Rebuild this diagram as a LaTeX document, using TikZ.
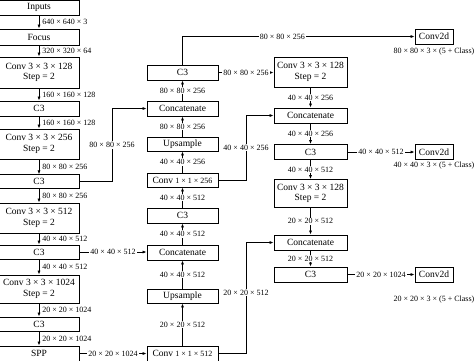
\documentclass[tikz,border=0pt]{standalone}
\usepackage{fontspec}
\setmainfont{Liberation Serif}
\usetikzlibrary{arrows.meta}
\begin{document}
\begin{tikzpicture}[x=1pt,y=-1pt,
  box/.style={draw, line width=0.8pt, inner sep=0pt, align=center,
    font=\fontsize{9.5}{10.5}\selectfont},
  lbox/.style={box, minimum width=80pt},
  mbox/.style={box, minimum width=71pt},
  rbox/.style={box, minimum width=73pt},
  dbox/.style={box, minimum width=38pt, minimum height=15pt},
  one/.style={minimum height=15pt},
  two/.style={minimum height=30pt},
  lbl/.style={font=\fontsize{8}{9}\selectfont, inner sep=1pt},
  wlbl/.style={lbl, fill=white},
  sm/.style={font=\fontsize{8}{9}\selectfont},
  arr/.style={-{Latex[length=4pt,width=3pt]}, line width=0.7pt},
  ln/.style={line width=0.7pt}]
\clip (0,0) rectangle (474,360);
\useasboundingbox (0,0) rectangle (474,360);

% left column
\node[lbox, minimum height=14.4pt] (inputs) at (39,7.8) {Inputs};
\node[lbox, minimum height=16pt] (focus) at (39,37) {Focus};
\node[lbox, minimum height=31pt] (conv128) at (39,72.5) {Conv 3 × 3 × 128\\Step = 2};
\node[lbox, one] (c3a) at (39,108.5) {C3};
\node[lbox, two] (conv256) at (39,144) {Conv 3 × 3 × 256\\Step = 2};
\node[lbox, minimum height=13.5pt] (c3b) at (39,181.5) {C3};
\node[lbox, two] (conv512) at (39,218) {Conv 3 × 3 × 512\\Step = 2};
\node[lbox, minimum height=14pt] (c3c) at (39,252) {C3};
\node[lbox, minimum height=28pt] (conv1024) at (39,289) {Conv 3 × 3 × 1024\\Step = 2};
\node[lbox, minimum height=14pt] (c3d) at (39,324) {C3};
\node[lbox, one] (spp) at (39,353.5) {SPP};

\foreach \a/\b/\t in {inputs/focus/640 × 640 × 3, focus/conv128/320 × 320 × 64,
  conv128/c3a/160 × 160 × 128, c3a/conv256/160 × 160 × 128,
  conv256/c3b/80 × 80 × 256, c3b/conv512/80 × 80 × 256,
  conv512/c3c/40 × 40 × 512, c3c/conv1024/40 × 40 × 512,
  conv1024/c3d/20 × 20 × 1024, c3d/spp/20 × 20 × 1024}
  \draw[arr] (\a.south) -- node[lbl, anchor=west, xshift=2pt] {\t} (\b.north);

% middle column
\node[mbox, one] (mc3) at (182.5,72.5) {C3};
\node[mbox, one] (mcat1) at (182.5,108.5) {Concatenate};
\node[mbox, minimum height=14pt] (mup1) at (182.5,144) {Upsample};
\node[mbox, minimum height=14pt] (mconv256) at (182.5,180) {Conv {\fontsize{8}{9}\selectfont 1 × 1 × 256}};
\node[mbox, one] (mc3b) at (182.5,215.5) {C3};
\node[mbox, one] (mcat2) at (182.5,252.5) {Concatenate};
\node[mbox, minimum height=14pt] (mup2) at (182.5,296) {Upsample};
\node[mbox, one] (mconv512) at (182.5,353.5) {Conv {\fontsize{8}{9}\selectfont 1 × 1 × 512}};

\foreach \a/\b/\t in {mcat1/mc3/80 × 80 × 256, mup1/mcat1/80 × 80 × 256,
  mconv256/mup1/40 × 40 × 256, mc3b/mconv256/40 × 40 × 512,
  mcat2/mc3b/40 × 40 × 512, mup2/mcat2/40 × 40 × 512,
  mconv512/mup2/20 × 20 × 512}
  \draw[arr] (\a.north) -- node[wlbl] {\t} (\b.south);

% right column
\node[rbox, two] (rconv1) at (310.5,72) {Conv 3 × 3 × 128\\Step = 2};
\node[rbox, one] (rcat1) at (310.5,115.5) {Concatenate};
\node[rbox, one] (rc3) at (310.5,152) {C3};
\node[rbox, minimum height=28pt] (rconv2) at (310.5,193.5) {Conv 3 × 3 × 128\\Step = 2};
\node[rbox, one] (rcat2) at (310.5,242.5) {Concatenate};
\node[rbox, one] (rc3b) at (310.5,274.5) {C3};

\foreach \a/\b/\t in {rconv1/rcat1/40 × 40 × 256, rcat1/rc3/40 × 40 × 256,
  rc3/rconv2/40 × 40 × 512, rconv2/rcat2/20 × 20 × 512,
  rcat2/rc3b/20 × 20 × 512}
  \draw[arr] (\a.south) -- node[wlbl] {\t} (\b.north);

% heads
\node[dbox] (d1) at (434,36.5) {Conv2d};
\node[dbox] (d2) at (434,152) {Conv2d};
\node[dbox] (d3) at (434,274.5) {Conv2d};
\node[lbl] (o1) at (434,51.5) {80 × 80 × 3 × (5 + Class)};
\node[lbl] (o2) at (434,165.5) {40 × 40 × 3 × (5 + Class)};
\node[lbl] (o3) at (434,300) {20 × 20 × 3 × (5 + Class)};

% cross connections
\coordinate (k1) at (112,0);
\coordinate (k2) at (246,0);
\draw[arr] (c3b.east) -- (c3b.east -| k1) -- node[wlbl] {80 × 80 × 256} (k1 |- mcat1.west) -- (mcat1.west);
\draw[arr] (c3c.east) -- node[wlbl] {40 × 40 × 512} (c3c.east -| mcat2.west);
\draw[arr] (spp.east) -- node[wlbl] {20 × 20 × 1024} (spp.east -| mconv512.west);
\draw[arr] (mc3.east) -- node[wlbl] {80 × 80 × 256} (mc3.east -| rconv1.west);
\draw[arr] (mc3.north) -- (mc3.north |- d1.west) -- node[wlbl, pos=0.43] {80 × 80 × 256} (d1.west);
\draw[arr] (mconv256.east) -- (mconv256.east -| k2) -- node[wlbl] {40 × 40 × 256} (k2 |- rcat1.west) -- (rcat1.west);
\draw[arr] (mconv512.east) -- (mconv512.east -| k2) -- node[wlbl, pos=0.55] {20 × 20 × 512} (k2 |- rcat2.west) -- (rcat2.west);
\draw[arr] (rc3.east) -- node[wlbl] {40 × 40 × 512} (rc3.east -| d2.west);
\draw[arr] (rc3b.east) -- node[wlbl] {20 × 20 × 1024} (rc3b.east -| d3.west);
\end{tikzpicture}
\end{document}
